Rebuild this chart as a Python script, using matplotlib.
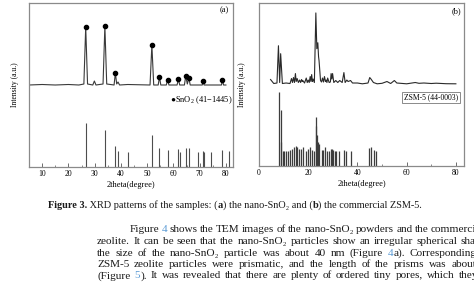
import numpy as np
import matplotlib
matplotlib.use("Agg")
import matplotlib.pyplot as plt

plt.rcParams['font.family'] = ['Liberation Serif', 'DejaVu Serif']
plt.rcParams['mathtext.fontset'] = 'stix'

# ---- panel (a): nano-SnO2 ----
sno2_x = [5, 10, 15, 20, 24, 25.9, 26.6, 27.3, 29.3, 29.9, 30.5, 33.2, 33.9, 34.6,
          37.4, 37.9, 38.4, 38.9, 39.5, 42.6, 51.1, 51.8, 52.5, 54.2, 54.7, 55.2,
          57.3, 57.8, 58.3, 61.4, 61.9, 62.4, 64.2, 64.7, 65.3, 65.9, 66.4, 71.0,
          71.3, 71.7, 78.3, 78.7, 79.1, 80]
sno2_y = [82, 82.5, 82, 82.5, 82, 83, 140, 83, 82, 86, 82, 83, 141, 83,
          82, 94, 83, 85, 82, 82.5, 82, 122, 82, 82, 90, 82,
          82, 87, 82, 82, 88, 82, 82, 91, 83, 89, 82, 82,
          86, 82, 82, 87, 82, 82]
sno2_peaks = [26.6, 33.9, 37.9, 51.8, 54.7, 57.8, 61.9, 64.7, 65.9, 71.3, 78.7]
sno2_peak_h = [140, 141, 94, 122, 90, 87, 88, 91, 89, 86, 87]
sno2_ref_pos = [26.6, 33.9, 37.9, 38.9, 42.6, 51.8, 54.7, 57.8, 61.9, 62.6,
                64.7, 65.9, 69.2, 71.3, 71.8, 74.5, 78.7, 81.2]
sno2_ref_h = [44, 37, 21, 16, 15, 32, 19, 17, 18, 15, 19, 19, 15, 16, 15, 15, 17, 16]

# ---- panel (b): ZSM-5 ----
zsm_x = [4.7, 6.0, 7.3, 7.9, 8.4, 8.8, 9.5, 11, 12.6, 13.2, 13.6, 14.0, 14.4, 14.8,
         15.1, 15.5, 16.0, 16.5, 16.9, 17.3, 17.6, 17.8, 18.5, 19.2, 19.6, 20.0,
         20.4, 20.8, 21.1, 21.4, 21.7, 22.0, 22.5, 23.1, 23.5, 23.9, 24.2, 24.4,
         25.0, 25.4, 25.8, 26.2, 26.6, 27.0, 27.3, 27.6, 27.9, 28.5, 29.0, 29.3,
         29.6, 29.9, 30.4, 31.2, 32.0, 32.8, 33.8, 34.5, 35.0, 35.7, 36.2, 37.2,
         38.0, 40, 42, 44.3, 45.0, 45.5, 46.5, 48, 50, 52, 53.5, 55, 56, 60,
         63.5, 65, 67, 70, 72, 76, 80]
zsm_y = [87, 83, 83.5, 121, 84, 113, 83, 83.5, 83, 88, 84, 89, 84, 93,
         85, 88, 84, 86.5, 84, 87, 85, 86, 83.5, 88.5, 84, 86.5,
         84, 90, 85, 92, 85, 87.5, 84, 154, 118, 124, 110, 106,
         86, 84.5, 88.5, 84.5, 90, 85, 86.5, 84, 88.5, 84, 84.5, 93,
         87.5, 93, 84, 86, 84, 86, 84, 94, 84, 86.5, 85, 86,
         83.5, 83.5, 82.7, 83.5, 89, 87.5, 84, 82.7, 83.2, 85, 83, 86, 83.5, 82.7,
         84, 83.2, 83.5, 83, 83.3, 82.8, 82.7]
zsm_ref_pos = [7.94, 8.80, 9.08, 9.8, 10.3, 11.1, 11.9, 12.6, 13.3, 14.1, 14.9, 15.6,
               16.3, 17.1, 18.0, 19.2, 19.9, 20.7, 21.5, 22.2, 23.05, 23.3, 23.65,
               23.95, 24.3, 25.4, 26.1, 26.8, 27.6, 28.3, 29.2, 29.5, 30.0, 30.7,
               31.3, 32.5, 34.4, 35.2, 37.4, 44.9, 45.6, 46.6, 47.4]
zsm_ref_h = [74, 56, 24, 15, 15, 15, 15, 16, 17, 19, 20, 19,
             17, 17, 19, 15, 17, 19, 16, 15, 49, 40, 31,
             24, 22, 16, 16, 19, 15, 15, 17, 17, 16, 15,
             15, 15, 16, 15, 15, 18, 19, 16, 15]

W, H = 474, 289
fig = plt.figure(figsize=(W / 100, H / 100), dpi=100)


def px_axes(left, top, right, bottom):
    return fig.add_axes([left / W, 1 - bottom / H, (right - left) / W, (bottom - top) / H])


def style(ax, xlim, major, minor, ylabel_pad):
    ax.set_xlim(*xlim)
    ax.set_ylim(0, 164)
    ax.set_xticks(major)
    ax.set_xticks(minor, minor=True)
    ax.set_yticks([])
    ax.tick_params(axis='x', which='major', direction='in', length=3, width=0.6,
                   labelsize=5.5, pad=2, color='#555555')
    ax.tick_params(axis='x', which='minor', direction='in', length=1.5, width=0.5,
                   color='#555555')
    for s in ax.spines.values():
        s.set_color('#8a8a8a')
        s.set_linewidth(0.9)
    ax.set_xlabel('2theta(degree)', fontsize=6, labelpad=2)
    ax.set_ylabel('Intensity (a.u.)', fontsize=5.5, labelpad=ylabel_pad)


ax1 = px_axes(29, 3, 233, 167)
ax1.plot(sno2_x, sno2_y, color='#3a3a3a', lw=0.8)
ax1.plot(sno2_peaks, sno2_peak_h, 'o', color='black', ms=3)
ax1.vlines(sno2_ref_pos, 0, sno2_ref_h, color='#4d4d4d', lw=0.8)
style(ax1, (5, 82.7), np.arange(10, 81, 10), np.arange(15, 81, 10), 7)
ax1.text(0.98, 0.955, '(a)', transform=ax1.transAxes, ha='right', va='center', fontsize=6)
ax1.text(0.69, 0.41, '\u25cfSnO$_\\mathregular{2}$ (41\u22121445)', transform=ax1.transAxes,
         ha='left', va='center', fontsize=6)

ax2 = px_axes(259, 3, 464, 166)
ax2.plot(zsm_x, zsm_y, color='#2a2a2a', lw=0.8)
ax2.vlines(zsm_ref_pos, 0, zsm_ref_h, color='#3d3d3d', lw=0.9)
style(ax2, (0, 83.3), np.arange(0, 81, 20), np.arange(10, 81, 20), 9)
ax2.text(0.985, 0.95, '(b)', transform=ax2.transAxes, ha='right', va='center', fontsize=6)
ax2.text(0.84, 0.42, 'ZSM-5 (44-0003)', transform=ax2.transAxes, ha='center', va='center',
         fontsize=5.5, bbox=dict(boxstyle='square,pad=0.25', fc='white', ec='#777777', lw=0.6))

# ---- caption and body text ----
renderer = fig.canvas.get_renderer()
K, B = '#1a1a1a', '#5b9bd5'
SNO2 = 'SnO\u2082'


def rich(x, y, parts, size):
    x = x / W
    for s, color, weight in parts:
        t = fig.text(x, 1 - y / H, s, color=color, fontweight=weight, fontsize=size,
                     ha='left', va='baseline')
        x = t.get_window_extent(renderer).x1 / fig.bbox.width


def tok(s):
    return [[(w, K, 'normal')] for w in s.split()]


def justify(x0, x1, y, words, size):
    # justified paragraph line, word gaps kept within a sane range
    items = []
    for word in words:
        parts = []
        for s, color, weight in word:
            t = fig.text(0, 1 - y / H, s, color=color, fontweight=weight, fontsize=size,
                         ha='left', va='baseline')
            parts.append((t, t.get_window_extent(renderer).width))
        items.append(parts)
    probe = fig.text(0, 0, 'a a', fontsize=size)
    probe2 = fig.text(0, 0, 'aa', fontsize=size)
    space = probe.get_window_extent(renderer).width - probe2.get_window_extent(renderer).width
    probe.remove()
    probe2.remove()
    total = sum(w for parts in items for _, w in parts) + 0.5 * sum(len(p) - 1 for p in items)
    gap = (x1 - x0 - total) / (len(items) - 1)
    gap = min(max(gap, 0.8 * space), 1.8 * space)
    x = x0
    for parts in items:
        for t, w in parts:
            t.set_x(x / W)
            x += w + 0.5
        x += gap - 0.5


rich(48, 208, [('Figure 3.', K, 'bold'), (' XRD patterns of the samples: (', K, 'normal'),
               ('a', K, 'bold'), (') the nano-' + SNO2 + ' and (', K, 'normal'),
               ('b', K, 'bold'), (') the commercial ZSM-5.', K, 'normal')], 7.4)

body = [
    (130, 476, 232.5, tok('Figure') + [[('4', B, 'normal')]] +
     tok('shows the TEM images of the nano-' + SNO2 + ' powders and the commercial')),
    (97, 489, 244, tok('zeolite. It can be seen that the nano-' + SNO2 +
                       ' particles show an irregular spherical shape,')),
    (97, 488, 255.5, tok('the size of the nano-' + SNO2 + ' particle was about 40 nm (Figure') +
     [[('4', B, 'normal'), ('a).', K, 'normal')]] + tok('Correspondingly,')),
    (97, 476, 267, tok('ZSM-5 zeolite particles were prismatic, and the length of the prisms was about')),
    (97, 478, 278.5, tok('(Figure') + [[('5', B, 'normal'), (').', K, 'normal')]] +
     tok('It was revealed that there are plenty of ordered tiny pores, which they')),
]
for x0, x1, y, words in body:
    justify(x0, x1, y, words, 8.1)

fig.savefig('out.png', dpi=100)
